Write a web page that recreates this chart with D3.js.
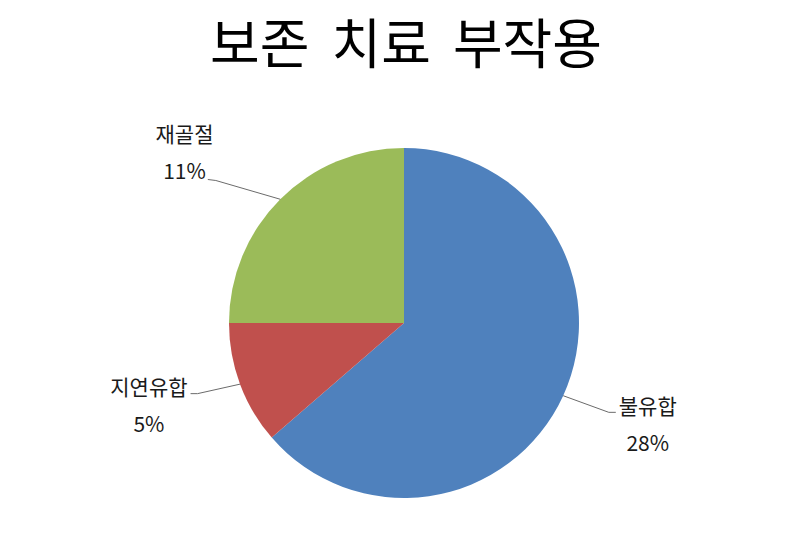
<!DOCTYPE html>
<html>
<meta charset="utf-8">
<title>보존 치료 부작용</title>
<style>
body, html { margin: 0; padding: 0; background: #fff; }
#chart { width: 800px; height: 537px; }
text { font-family: 'Noto Sans CJK KR', 'Noto Sans', sans-serif; }
.title { font-size: 54px; fill: #000; }
.lbl text { font-size: 21px; fill: #1a1a1a; }
.leader { fill: none; stroke: #6b6b6b; stroke-width: 1; }
</style>
<script src="https://d3js.org/d3.v7.min.js"></script>
<body>
<div id="chart"></div>
<script>

// data
var categories = ["불유합", "지연유합", "재골절"];
var values = [28, 5, 11];
var colors = ["#4f81bd", "#c0504d", "#9bbb59"];
var chart_title = "보존 치료 부작용";

// layout only
var width = 800, height = 537;
var cx = 404, cy = 323, radius = 175;
var label_radius = 268;
var label_nudge = [[0, -12], [-4, -14], [-30, 16]];

fmt_pct = function(d) { return d + "%"; };

var svg = d3.select("#chart")
            .append("svg")
            .attr("width", width)
            .attr("height", height);

svg.append("text")
   .attr("class", "title")
   .attr("x", cx + 2)
   .attr("y", 64)
   .attr("text-anchor", "middle")
   .attr("word-spacing", "10px")
   .text(chart_title);

var pie = d3.pie().sort(null).value(function(d) { return d; });
var arcs = pie(values);

var arc = d3.arc().innerRadius(0).outerRadius(radius);
var edge = d3.arc().innerRadius(radius).outerRadius(radius);
var lab = d3.arc().innerRadius(label_radius).outerRadius(label_radius);

var g = svg.append("g")
           .attr("transform", "translate(" + cx + "," + cy + ")");

g.selectAll(".slice")
 .data(arcs)
 .enter()
 .append("path")
 .attr("class", "slice")
 .attr("d", arc)
 .attr("fill", function(d, i) { return colors[i]; });

arcs.forEach(function(d, i) {
  var c = lab.centroid(d);
  var lx = c[0] + label_nudge[i][0];
  var ly = c[1] + label_nudge[i][1];

  var lg = g.append("g").attr("class", "lbl");
  var name = lg.append("text")
               .attr("x", lx)
               .attr("y", ly - 8)
               .attr("text-anchor", "middle")
               .text(categories[i]);
  var pct = lg.append("text")
              .attr("x", lx)
              .attr("y", ly + 29)
              .attr("text-anchor", "middle")
              .text(fmt_pct(values[i]));

  var p = edge.centroid(d);
  var nb = name.node().getBBox();
  var pb = pct.node().getBBox();
  var pts;
  if (p[1] > pb.y + pb.height) {
    // attach below-right of the percent line
    var ex = pb.x + pb.width + 2, ey = ly + 30;
    pts = [p, [ex + 8, ey + 1], [ex, ey]];
  } else if (p[0] > lx) {
    var ex2 = nb.x + nb.width + 3, ey2 = ly - 9;
    pts = [p, [ex2 + 7, ey2], [ex2, ey2]];
  } else {
    var ex3 = nb.x - 3, ey3 = ly - 10;
    pts = [p, [ex3 - 7, ey3], [ex3, ey3]];
  }
  g.append("path")
   .attr("class", "leader")
   .attr("d", d3.line()(pts));
});

</script>
</body>
</html>
